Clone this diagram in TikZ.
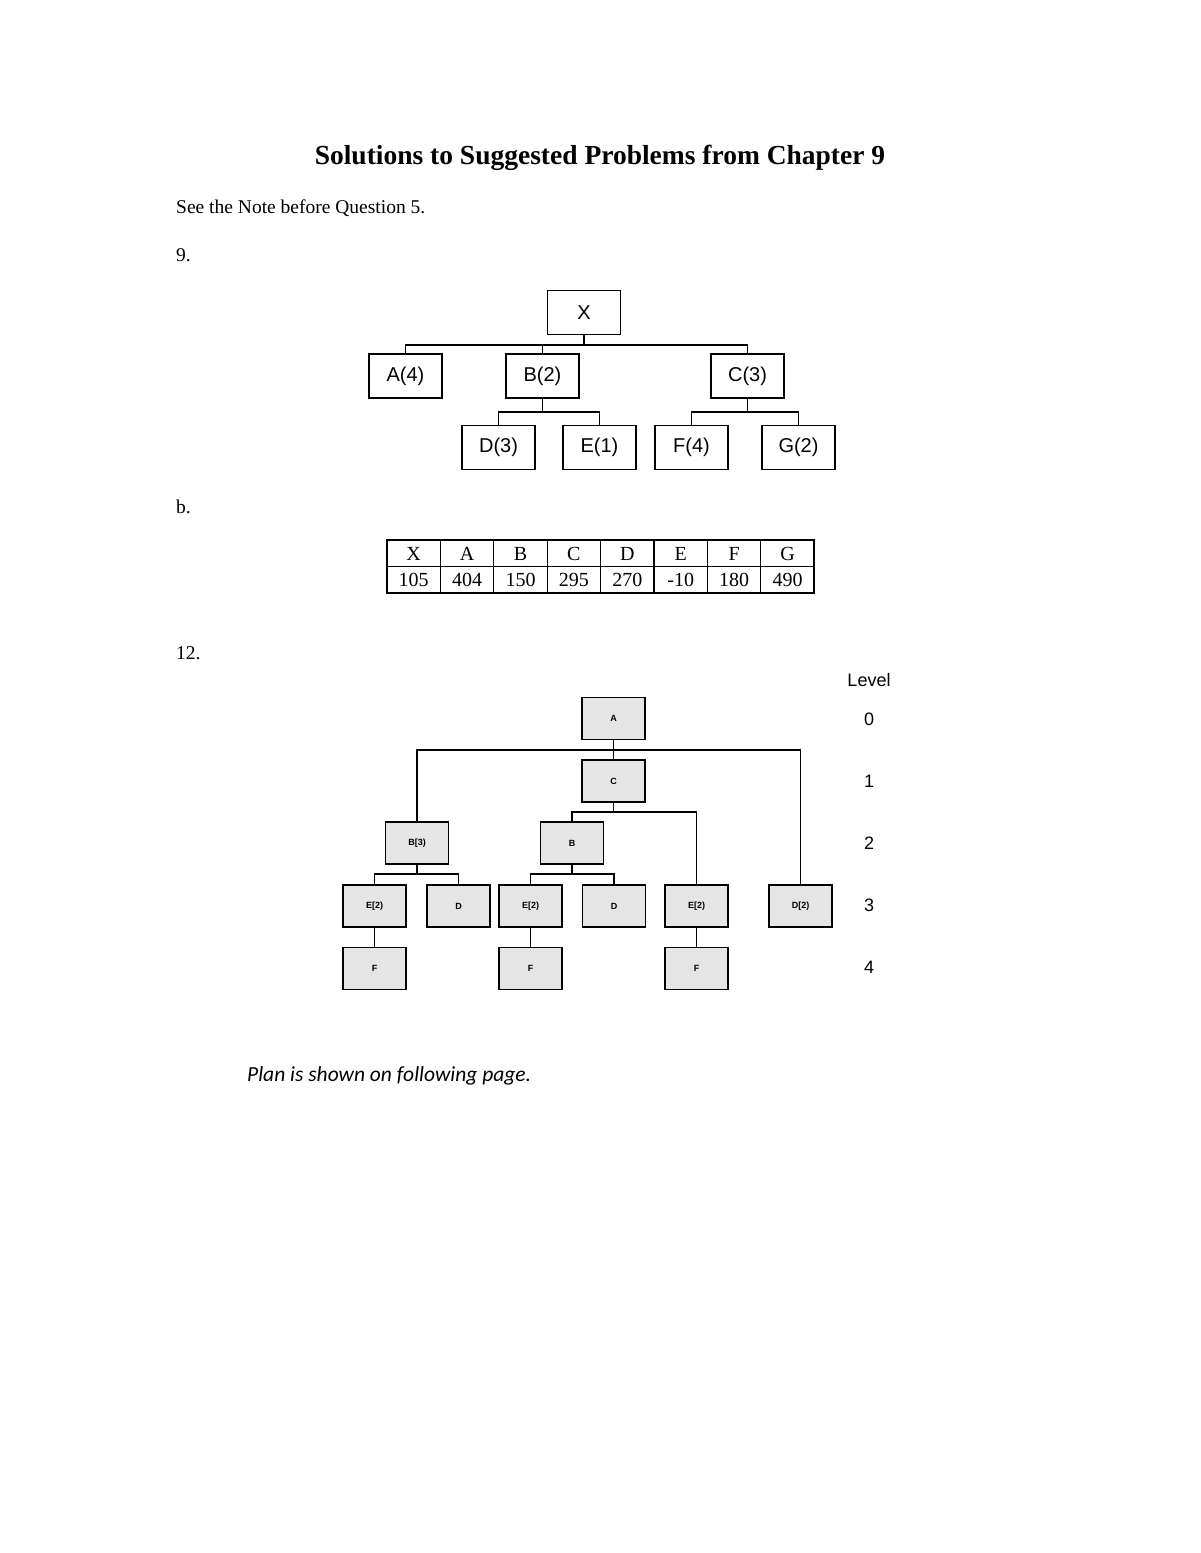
\documentclass[tikz,border=0pt]{standalone}
\usepackage{fontspec}
\setmainfont{Liberation Serif}
\newfontfamily\arialf{Liberation Sans}
\newfontfamily\calib{Carlito}
\begin{document}
\begin{tikzpicture}[x=1pt,y=-1pt,
  bx/.style={draw,line width=1.3pt,minimum width=73pt,minimum height=44pt,inner sep=0,font=\arialf\fontsize{20}{22}\selectfont},
  gb/.style={draw,line width=1.2pt,fill=gray!20,minimum width=63pt,minimum height=42pt,inner sep=0,font=\arialf\bfseries\fontsize{9}{10}\selectfont},
  cell/.style={draw,line width=1.3pt,minimum width=53.4pt,minimum height=26.5pt,inner sep=0,font=\fontsize{20}{21}\selectfont},
  txt/.style={anchor=west,inner sep=0,font=\fontsize{19.5}{22}\selectfont},
  ln/.style={line width=1.1pt}]
\useasboundingbox (0,0) rectangle (1200,1553);
\node[font=\bfseries\fontsize{27.5}{30}\selectfont] (title) at (600,158) {Solutions to Suggested Problems from Chapter 9};
\node[txt] (note) at (176,208) {See the Note before Question 5.};
\node[txt] (q9) at (176,255) {9.};
\node[txt] (qb) at (176,507) {b.};
\node[txt] (q12) at (176,653) {12.};
% tree 1
\node[bx] (X) at (584,312.5) {X};
\node[bx] (A4) at (405.5,376) {A(4)};
\node[bx] (B2) at (542.5,376) {B(2)};
\node[bx] (C3) at (747.5,376) {C(3)};
\node[bx] (D3) at (498.5,447.5) {D(3)};
\node[bx] (E1) at (599.5,447.5) {E(1)};
\node[bx] (F4) at (691.5,447.5) {F(4)};
\node[bx] (G2) at (798.5,447.5) {G(2)};
\coordinate (j1) at (584,345);
\draw[ln] (X.south) -- (j1);
\draw[ln] (A4.north) |- (j1) -| (C3.north);
\draw[ln] (B2.north) -- (B2.north |- j1);
\coordinate (j2) at (542.5,412);
\draw[ln] (B2.south) -- (j2);
\draw[ln] (D3.north) |- (j2) -| (E1.north);
\coordinate (j3) at (747.5,412);
\draw[ln] (C3.south) -- (j3);
\draw[ln] (F4.north) |- (j3) -| (G2.north);
% table
\foreach \h/\v [count=\i] in {X/105,A/404,B/150,C/295,D/270,E/-10,F/180,G/490}{
  \node[cell] (h\i) at ({387+53.4*(\i-0.5)},553.5) {\h};
  \node[cell] (v\i) at ({387+53.4*(\i-0.5)},580) {\v};
}
\draw[line width=2pt] (387,540) rectangle (814,593);
% tree 2
\node[gb] (tA) at (613.5,718.5) {A};
\node[gb] (tC) at (613.5,781) {C};
\node[gb] (tB3) at (417,843) {B[3)};
\node[gb] (tB) at (572,843) {B};
\node[gb] (tE1) at (374.5,906) {E[2)};
\node[gb] (tD1) at (458.5,906) {D};
\node[gb] (tE2) at (530.5,906) {E[2)};
\node[gb] (tD2) at (614,906) {D};
\node[gb] (tE3) at (696.5,906) {E[2)};
\node[gb] (tD3) at (800.5,906) {D[2)};
\node[gb] (tF1) at (374.5,968.5) {F};
\node[gb] (tF2) at (530.5,968.5) {F};
\node[gb] (tF3) at (696.5,968.5) {F};
\coordinate (k1) at (613.5,750);
\draw[ln] (tA.south) -- (tC.north);
\draw[ln] (tB3.north) |- (k1) -| (tD3.north);
\coordinate (k2) at (613.5,812);
\draw[ln] (tC.south) -- (k2);
\draw[ln] (tB.north) |- (k2) -| (tE3.north);
\coordinate (k3) at (417,874);
\draw[ln] (tB3.south) -- (k3);
\draw[ln] (tE1.north) |- (k3) -| (tD1.north);
\coordinate (k4) at (572,874);
\draw[ln] (tB.south) -- (k4);
\draw[ln] (tE2.north) |- (k4) -| (tD2.north);
\draw[ln] (tE1.south) -- (tF1.north);
\draw[ln] (tE2.south) -- (tF2.north);
\draw[ln] (tE3.south) -- (tF3.north);
\foreach \t/\yy/\n in {Level/680/lv,0/719/l0,1/781/l1,2/843/l2,3/905/l3,4/967/l4}
  \node[font=\arialf\fontsize{18}{20}\selectfont] (\n) at (869,\yy) {\t};
\node[anchor=west,inner sep=0,font=\calib\itshape\fontsize{21.5}{24}\selectfont] (plan) at (247,1076) {Plan is shown on following page.};
\end{tikzpicture}
\end{document}
